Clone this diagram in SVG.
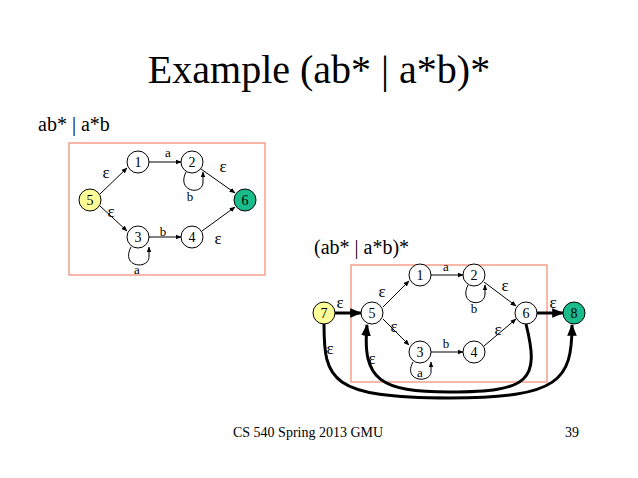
<svg xmlns="http://www.w3.org/2000/svg" width="638" height="478" viewBox="0 0 638 478">
<defs>
<marker id="ah" viewBox="0 0 10 10" refX="9" refY="5" markerWidth="6" markerHeight="6" orient="auto"><path d="M0,1 L10,5 L0,9 z" fill="#000"/></marker>
<marker id="ahb" viewBox="0 0 10 10" refX="9" refY="5" markerWidth="4" markerHeight="4" orient="auto"><path d="M0,1 L10,5 L0,9 z" fill="#000"/></marker>
<style>
text{font-family:"Liberation Serif",serif;fill:#000}
.n circle{fill:#fff;stroke:#000;stroke-width:1}
.n text{font-size:14px;text-anchor:middle}
.l{font-size:13px;text-anchor:middle}
.e{font-size:17px;text-anchor:middle}
.c path{fill:none;stroke:#000;stroke-width:1;marker-end:url(#ah)}
.c path.t{stroke-width:3;marker-end:url(#ahb)}
.box{fill:none;stroke:#f4876e;stroke-width:1.2}
</style>
</defs>
<rect width="638" height="478" fill="#fff"/>
<text x="319" y="83" font-size="40" text-anchor="middle">Example (ab* | a*b)*</text>
<text x="38" y="131" font-size="20">ab* | a*b</text>
<text x="314" y="254" font-size="20">(ab* | a*b)*</text>
<text x="233" y="437" font-size="14">CS 540   Spring 2013 GMU</text>
<text x="565" y="437" font-size="14">39</text>
<rect class="box" x="69" y="143" width="196" height="132"/>
<rect class="box" x="351" y="265" width="196" height="117"/>
<g class="c">
<path d="M100,194 L127,168"/><path d="M149,162 L181,162"/><path d="M201,169 L235,193"/><path d="M100,206 L127,231"/><path d="M149,237 L181,237"/><path d="M202,231 L235,207"/>
<path d="M186,172 C176,192 203,196 203,182 L203,172"/>
<path d="M131,247 C120,268 150,270 149,256 L149,247"/>
<path d="M383,307 L409,281"/><path d="M431,275 L463,275"/><path d="M484,282 L516,306"/><path d="M383,319 L409,345"/><path d="M431,352 L463,352"/><path d="M484,346 L516,319"/>
<path d="M468,285 C458,305 485,308 485,294 L485,285"/>
<path d="M413,362 C402,382 432,384 431,371 L431,362"/>
<path class="t" d="M335,313 L361,313"/><path class="t" d="M537,313 L563,313"/>
<path class="t" d="M526,324 C540,380 530,392 450,392 C380,392 362,380 367,325"/>
<path class="t" d="M324,324 C324,380 330,398 450,398 C560,398 572,380 572,325"/>
</g>
<g id="a5" class="n"><circle cx="90" cy="200" r="11" style="fill:#ffff99"/><text x="90" y="205">5</text></g>
<g id="a1" class="n"><circle cx="138" cy="162" r="11"/><text x="138" y="167">1</text></g>
<g id="a2" class="n"><circle cx="192" cy="162" r="11"/><text x="192" y="167">2</text></g>
<g id="a6" class="n"><circle cx="245" cy="200" r="11" style="fill:#1abc8c"/><text x="245" y="205">6</text></g>
<g id="a3" class="n"><circle cx="138" cy="237" r="11"/><text x="138" y="242">3</text></g>
<g id="a4" class="n"><circle cx="192" cy="237" r="11"/><text x="192" y="242">4</text></g>
<g id="b7" class="n"><circle cx="324" cy="313" r="11" style="fill:#ffff99"/><text x="324" y="318">7</text></g>
<g id="b5" class="n"><circle cx="372" cy="313" r="11"/><text x="372" y="318">5</text></g>
<g id="b1" class="n"><circle cx="420" cy="275" r="11"/><text x="420" y="280">1</text></g>
<g id="b2" class="n"><circle cx="474" cy="275" r="11"/><text x="474" y="280">2</text></g>
<g id="b6" class="n"><circle cx="526" cy="313" r="11"/><text x="526" y="318">6</text></g>
<g id="b8" class="n"><circle cx="574" cy="313" r="11" style="fill:#1abc8c"/><text x="574" y="318">8</text></g>
<g id="b3" class="n"><circle cx="420" cy="352" r="11"/><text x="420" y="357">3</text></g>
<g id="b4" class="n"><circle cx="474" cy="352" r="11"/><text x="474" y="357">4</text></g>
<g id="labels">
<text class="l" x="168" y="157">a</text><text class="l" x="190" y="201">b</text><text class="l" x="137" y="274">a</text><text class="l" x="163" y="236">b</text>
<text class="e" x="106" y="178">ε</text><text class="e" x="111" y="217">ε</text><text class="e" x="223" y="172">ε</text><text class="e" x="218" y="244">ε</text>
<text class="l" x="446" y="271">a</text><text class="l" x="474" y="313">b</text><text class="l" x="446" y="348">b</text><text class="l" x="420" y="377">a</text>
<text class="e" x="340" y="308">ε</text><text class="e" x="330" y="354">ε</text><text class="e" x="372" y="364">ε</text><text class="e" x="382" y="297">ε</text><text class="e" x="394" y="332">ε</text><text class="e" x="505" y="291">ε</text><text class="e" x="498" y="335">ε</text><text class="e" x="553" y="308">ε</text>
</g>
</svg>
